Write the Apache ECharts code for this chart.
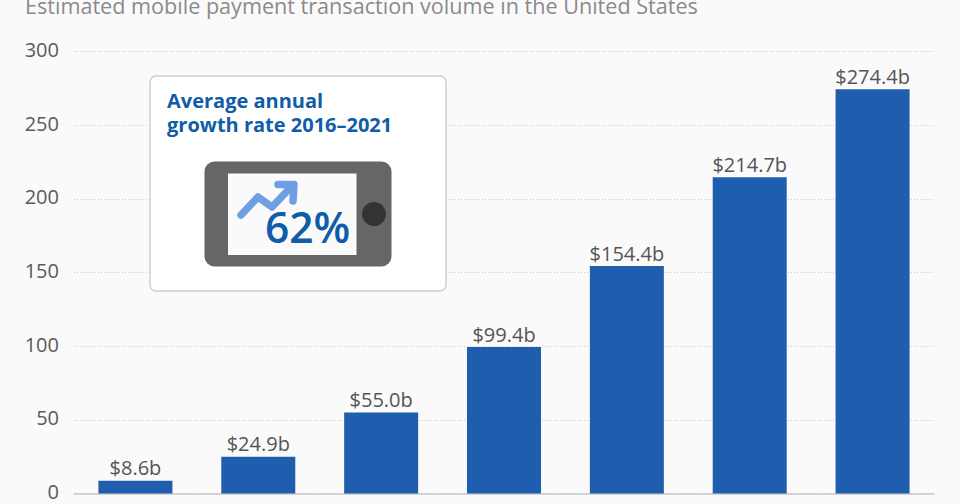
<!DOCTYPE html>
<html>
<head>
<meta charset="utf-8">
<style>
html, body { margin: 0; padding: 0; background: #fafafa; }
#myChart { width: 960px; height: 504px; }
</style>
<script src="https://cdn.jsdelivr.net/npm/echarts@6/dist/echarts.min.js"></script>
</head>
<body>
<div id="myChart"></div>
<script>
var categories = ['2015', '2016', '2017', '2018', '2019', '2020', '2021'];
var volumes = [8.6, 24.9, 55.0, 99.4, 154.4, 214.7, 274.4];
var subtitle = 'Estimated mobile payment transaction volume in the United States';
var boxTitle = 'Average annual\ngrowth rate 2016–2021';
var boxValue = '62%';

var font = '"Open Sans", sans-serif';
var myChart = echarts.init(document.getElementById('myChart'), null, {renderer: 'svg'});
var option = {
    backgroundColor: '#fafafa',
    animation: false,
    grid: {
        left: 74,
        right: 26,
        top: 51.5,
        bottom: 10.5,
        outerBoundsMode: 'none'
    },
    xAxis: {
        type: 'category',
        data: categories,
        axisTick: {show: false},
        axisLabel: {show: false},
        axisLine: {lineStyle: {color: '#c8c8c8', width: 1.5}}
    },
    yAxis: {
        type: 'value',
        min: 0,
        max: 300,
        interval: 50,
        axisLine: {show: false},
        axisTick: {show: false},
        axisLabel: {
            color: '#5a5a5a',
            fontFamily: font,
            fontSize: 20,
            margin: 15,
            // sits a little above its gridline, as in the original
            verticalAlign: 'bottom',
            lineHeight: 4
        },
        splitLine: {lineStyle: {color: '#c8c8c8', type: [1, 2], width: 1}}
    },
    series: [
        {
            type: 'bar',
            data: volumes,
            barWidth: 74,
            itemStyle: {color: '#1f5eae'},
            label: {
                show: true,
                position: 'top',
                distance: 3,
                color: '#555555',
                fontFamily: font,
                fontSize: 20,
                formatter: function (p) {
                    return '$' + p.value.toFixed(1) + 'b';
                }
            }
        }
    ],
    graphic: [
        // subtitle is cut off by the top edge in the original
        {type: 'text', x: 25, y: -6, z: 10, style: {text: subtitle, fill: '#8a8a8a', font: '21.6px ' + font}},
        // inset box
        {type: 'rect', z: 10, shape: {x: 150, y: 76, width: 296, height: 215, r: 6},
            style: {fill: '#ffffff', stroke: '#cfcfcf', lineWidth: 1.5}},
        {type: 'text', x: 167, y: 88, z: 11,
            style: {text: boxTitle, fill: '#0f5ca8', font: 'bold 20px ' + font, lineHeight: 24}},
        // phone
        {type: 'rect', z: 11, shape: {x: 204.5, y: 161.5, width: 187, height: 105, r: 10}, style: {fill: '#666666'}},
        {type: 'rect', z: 12, shape: {x: 228, y: 173.5, width: 128.5, height: 81.5}, style: {fill: '#fafafa'}},
        {type: 'circle', z: 12, shape: {cx: 374, cy: 214, r: 12}, style: {fill: '#333333'}},
        {type: 'polyline', z: 13, shape: {points: [[241, 215], [258, 197], [272, 207], [292, 186]]},
            style: {stroke: '#6f9fe3', lineWidth: 7.5, lineCap: 'round', lineJoin: 'round', fill: null}},
        {type: 'polyline', z: 13, shape: {points: [[278, 184.5], [294, 184.5], [293, 201]]},
            style: {stroke: '#6f9fe3', lineWidth: 7.5, lineCap: 'round', lineJoin: 'round', fill: null}},
        {type: 'text', x: 265, y: 205, z: 14,
            style: {text: boxValue, fill: '#0f5ca8', font: '600 42.5px ' + font}}
    ]
};
myChart.setOption(option);
</script>
</body>
</html>
